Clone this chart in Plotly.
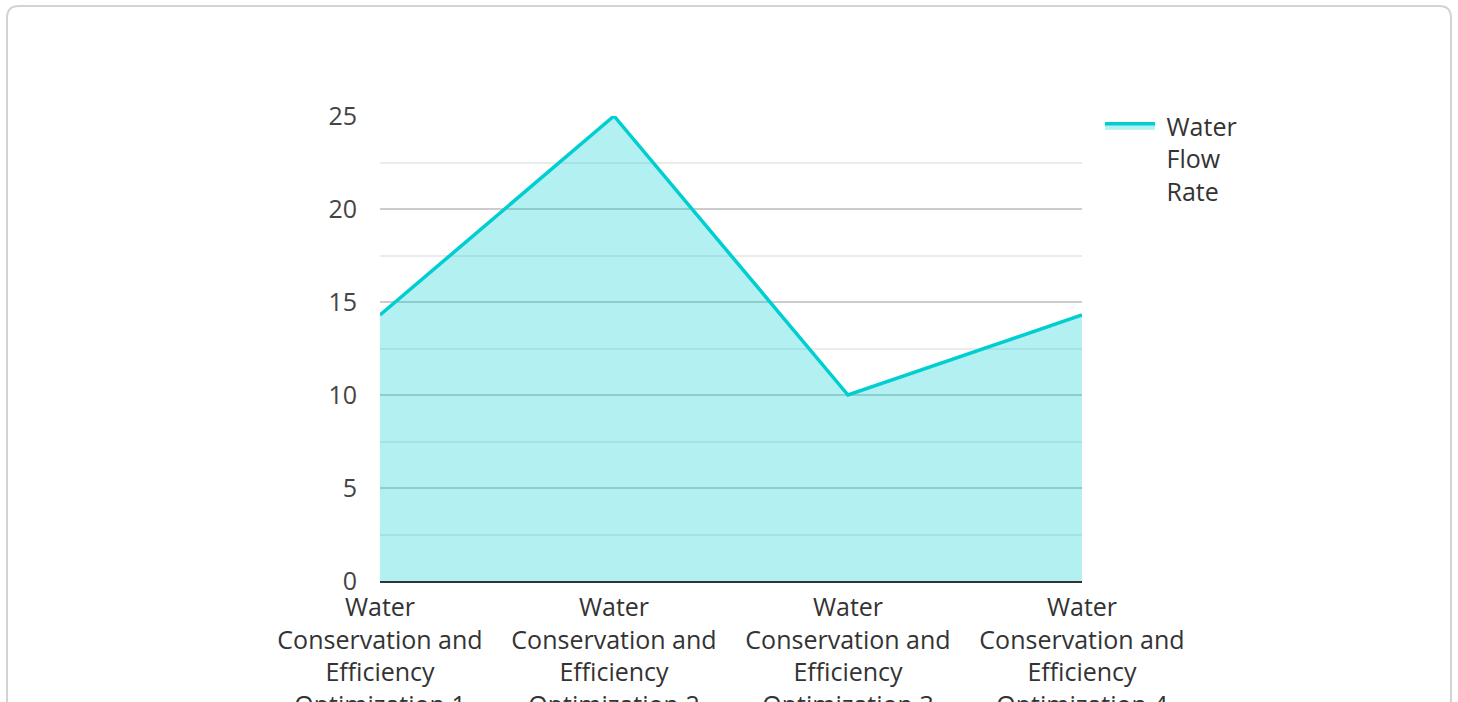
import plotly.graph_objects as go

categories = [
    "Water<br>Conservation and<br>Efficiency<br>Optimization 1",
    "Water<br>Conservation and<br>Efficiency<br>Optimization 2",
    "Water<br>Conservation and<br>Efficiency<br>Optimization 3",
    "Water<br>Conservation and<br>Efficiency<br>Optimization 4",
]
flow_rate = [14.3, 25, 10, 14.3]
series_name = "\u00a0Water<br>\u00a0Flow<br>\u00a0Rate"

W, H = 1458, 702
L, R, T, B = 380, 376, 116, 121
pw, ph = W - L - R, H - T - B

def px(x):
    return (x - L) / pw

def py(y):
    return (H - B - y) / ph

fig = go.Figure()
fig.add_trace(go.Scatter(
    x=categories, y=flow_rate, name=series_name, mode="lines",
    line=dict(color="#00CED1", width=3.5),
    fill="tozeroy", fillcolor="rgba(0,206,209,0.3)",
))

# card border with rounded corners
x0, x1, y0, y1 = px(7), px(1451), py(6), py(712)
rx, ry = 12 / pw, 12 / ph
path = (f"M {x0+rx},{y0} L {x1-rx},{y0} Q {x1},{y0} {x1},{y0-ry} "
        f"L {x1},{y1+ry} Q {x1},{y1} {x1-rx},{y1} L {x0+rx},{y1} "
        f"Q {x0},{y1} {x0},{y1+ry} L {x0},{y0-ry} Q {x0},{y0} {x0+rx},{y0} Z")
fig.add_shape(type="path", path=path, xref="paper", yref="paper",
              line=dict(color="#d3d3d3", width=2), layer="below")

fig.update_layout(
    width=W, height=H,
    margin=dict(l=L, r=R, t=T, b=B, autoexpand=False),
    paper_bgcolor="white", plot_bgcolor="white",
    font=dict(family="Open Sans", size=25, color="#444"),
    showlegend=True,
    legend=dict(x=px(1100), y=py(103), xanchor="left", yanchor="top",
                valign="top",
                font=dict(size=25, color="#333"), itemwidth=50,
                bgcolor="rgba(0,0,0,0)"),
    xaxis=dict(type="category", range=[0, 3], showgrid=False, automargin=False,
               showline=True, linecolor="#333", linewidth=2,
               ticks="", ticklabelstandoff=3,
               tickfont=dict(size=25, color="#333"), fixedrange=True),
    yaxis=dict(range=[0, 25], dtick=5, showgrid=True, gridcolor="#cccccc",
               gridwidth=2, zeroline=False, showline=False, ticks="",
               automargin=False, ticklabelstandoff=22,
               minor=dict(dtick=2.5, showgrid=True, gridcolor="#ebebeb", gridwidth=2),
               tickfont=dict(size=25, color="#444")),
)

fig.write_html("out.html")
